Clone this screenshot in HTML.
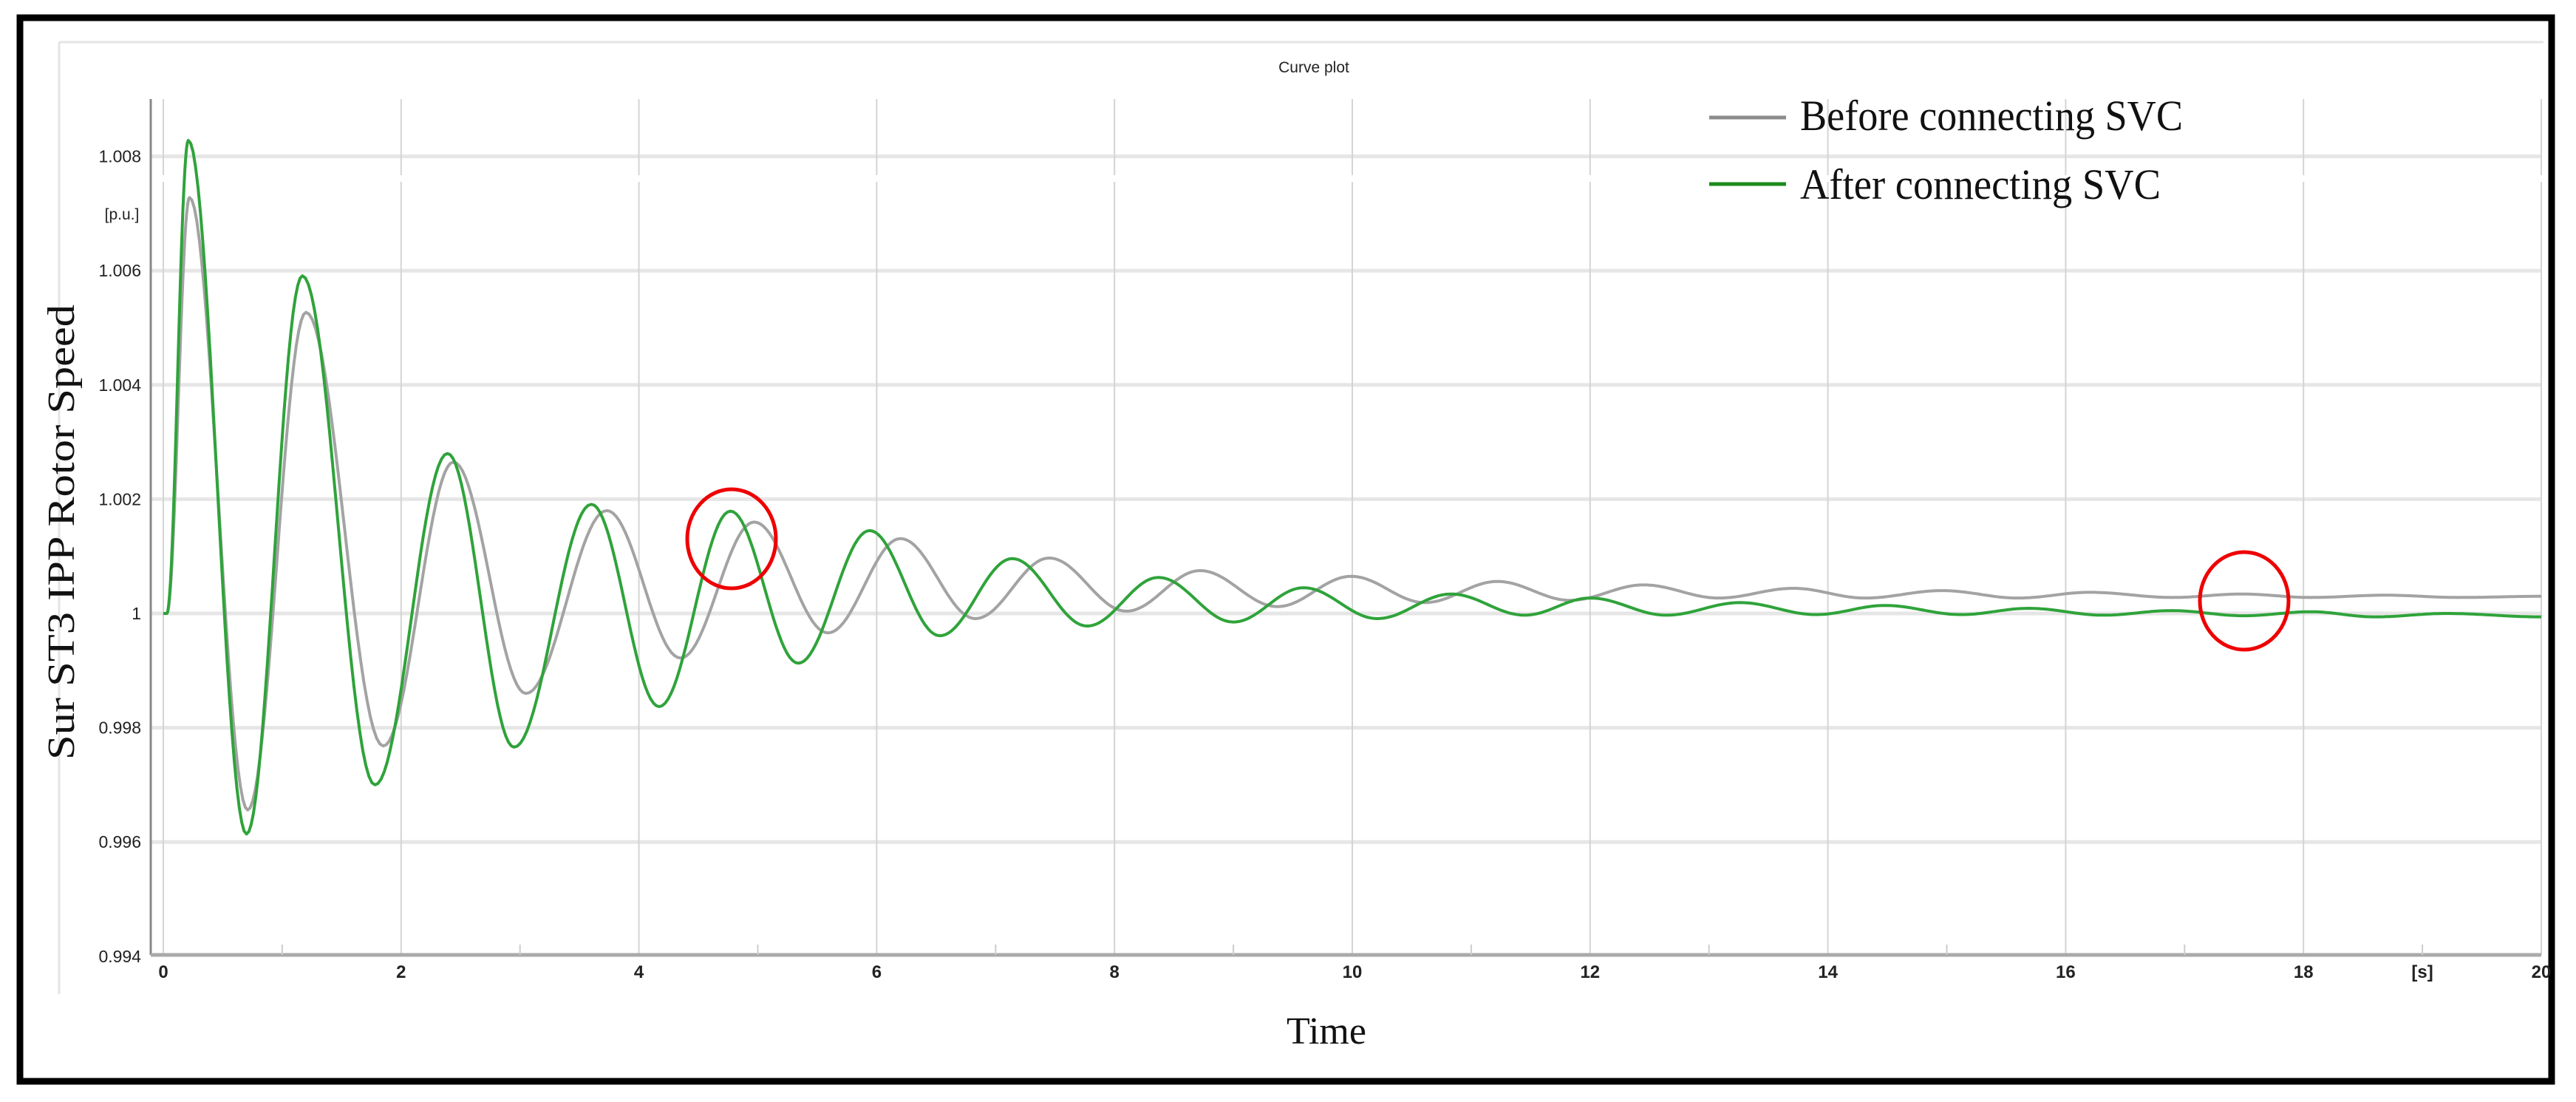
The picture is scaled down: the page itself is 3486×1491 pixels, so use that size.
<!DOCTYPE html>
<html><head><meta charset="utf-8"><style>
html,body{margin:0;padding:0;background:#fff;}
svg{display:block;}
</style></head><body>
<svg id="chart" width="3486" height="1491" viewBox="0 0 3486 1491" xmlns="http://www.w3.org/2000/svg">
<rect x="0" y="0" width="3486" height="1491" fill="#fff"/>
<rect x="27" y="24" width="3426" height="1439" fill="none" stroke="#000" stroke-width="9"/>
<line x1="80" y1="57" x2="3442" y2="57" stroke="#e4e4e4" stroke-width="3"/>
<line x1="80" y1="57" x2="80" y2="1345" stroke="#e4e4e4" stroke-width="3"/>
<text x="1778" y="98" font-family="Liberation Sans, sans-serif" font-size="21" text-anchor="middle" fill="#222">Curve plot</text>
<g id="grid"></g>
<g id="axes"></g>
<g id="series"></g>
<text transform="translate(100,720) rotate(-90)" font-family="Liberation Serif, serif" font-size="52" text-anchor="middle" fill="#111" textLength="616" lengthAdjust="spacingAndGlyphs">Sur ST3  IPP Rotor Speed</text>
<text x="1795" y="1412" font-family="Liberation Serif, serif" font-size="52" text-anchor="middle" fill="#111">Time</text>
<text x="165" y="297" font-family="Liberation Sans, sans-serif" font-size="21" text-anchor="middle" fill="#222">[p.u.]</text>
<g>
<line x1="2313" y1="159" x2="2417" y2="159" stroke="#8c8c8c" stroke-width="5"/>
<text x="2436" y="176" font-family="Liberation Serif, serif" font-size="58" fill="#111" textLength="518" lengthAdjust="spacingAndGlyphs">Before connecting SVC</text>
<line x1="2313" y1="249" x2="2417" y2="249" stroke="#1a8a1a" stroke-width="5"/>
<text x="2436" y="269" font-family="Liberation Serif, serif" font-size="58" fill="#111" textLength="488" lengthAdjust="spacingAndGlyphs">After connecting SVC</text>
</g>
<ellipse cx="990" cy="729" rx="60" ry="67" fill="none" stroke="#e00" stroke-width="5"/>
<ellipse cx="3037" cy="813" rx="60" ry="66" fill="none" stroke="#e00" stroke-width="5"/>
</svg>
<script>
const xTicks = [0,2,4,6,8,10,12,14,16,18,20];
const yTicks = [0.994,0.996,0.998,1,1.002,1.004,1.006,1.008];
const yTickLabels = ["0.994","0.996","0.998","1","1.002","1.004","1.006","1.008"];
const beforeT = [0,0.03,0.22,0.71,1.2,1.85,2.44,3.05,3.73,4.35,4.97,5.59,6.2,6.83,7.45,8.1,8.72,9.37,9.99,10.61,11.22,11.83,12.45,13.08,13.71,14.31,14.96,15.6,16.2,16.9,17.48,18.06,18.69,19.3,20];
const beforeV = [1,1,1.00728,0.99656,1.00527,0.99768,1.00265,0.9986,1.0018,0.99922,1.0016,0.99966,1.00131,0.99991,1.00097,1.00004,1.00075,1.00012,1.00065,1.00019,1.00056,1.00023,1.0005,1.00027,1.00044,1.00027,1.0004,1.00027,1.00037,1.00028,1.00034,1.00028,1.00032,1.00028,1.0003];
const afterT = [0,0.03,0.21,0.70,1.17,1.78,2.39,2.95,3.6,4.17,4.77,5.34,5.94,6.53,7.14,7.77,8.37,9.0,9.59,10.21,10.83,11.45,12.0,12.64,13.26,13.9,14.48,15.12,15.69,16.32,16.89,17.5,18.06,18.6,19.2,20];
const afterV = [1,1,1.00828,0.99614,1.00591,0.997,1.0028,0.99766,1.00191,0.99837,1.00179,0.99913,1.00145,0.99961,1.00096,0.99978,1.00063,0.99985,1.00045,0.99991,1.00034,0.99997,1.00027,0.99997,1.00019,0.99998,1.00014,0.99998,1.00009,0.99997,1.00005,0.99996,1.00003,0.99994,1.0,0.99994];

const NS="http://www.w3.org/2000/svg";
const X0=221, XS=160.9, Y1=830, YS=77300;
function xs(t){return X0+t*XS;}
function ys(v){return Y1-(v-1)*YS;}
const plotTop=134, plotBottom=1292, plotLeft=204, plotRight=xs(20);
function mk(tag,attrs,parent){const e=document.createElementNS(NS,tag);for(const k in attrs)e.setAttribute(k,attrs[k]);parent.appendChild(e);return e;}
const grid=document.getElementById('grid'), axes=document.getElementById('axes'), series=document.getElementById('series');

yTicks.forEach((v,i)=>{
  if(i===0) return;
  const l=mk('line',{x1:plotLeft,x2:plotRight,y1:ys(v),y2:ys(v),stroke:'#e6e6e6','stroke-width':5},grid);
  
  
});
xTicks.forEach(t=>{
  const l=mk('line',{x1:xs(t),x2:xs(t),y1:plotTop,y2:plotBottom,stroke:'#d4d4d4','stroke-width':2},grid);
  
  
});
const brk=mk('rect',{x:plotLeft-4,y:237,width:plotRight-plotLeft+8,height:9,fill:'#fff'},grid);



const ya=mk('line',{x1:plotLeft,x2:plotLeft,y1:plotTop,y2:plotBottom,stroke:'#888','stroke-width':3},axes);


const xa=mk('line',{x1:plotLeft,x2:plotRight,y1:plotBottom,y2:plotBottom,stroke:'#aaa','stroke-width':5},axes);


for(let t=1;t<20;t+=2){
  const m=mk('line',{x1:xs(t),x2:xs(t),y1:plotBottom-14,y2:plotBottom,stroke:'#ccc','stroke-width':2},axes);
  
  
}
yTicks.forEach((v,i)=>{
  const tx=mk('text',{x:191,y:ys(v)+8,'font-family':'Liberation Sans, sans-serif','font-size':23,'text-anchor':'end',fill:'#222'},axes);
  tx.textContent=yTickLabels[i];
  
  
});
xTicks.forEach(t=>{
  const tx=mk('text',{x:xs(t),y:1323,'font-family':'Liberation Sans, sans-serif','font-size':24,'font-weight':'bold','text-anchor':'middle',fill:'#222'},axes);
  tx.textContent=String(t);
  
  
});
const su=mk('text',{x:xs(19),y:1323,'font-family':'Liberation Sans, sans-serif','font-size':24,'font-weight':'bold','text-anchor':'middle',fill:'#222'},axes);
su.textContent='[s]';



function pathFor(T,V){
  let d='M'+xs(T[0]).toFixed(1)+','+ys(V[0]).toFixed(1);
  for(let i=0;i<T.length-1;i++){
    const n=24;
    for(let k=1;k<=n;k++){
      const f=k/n, w=(1-Math.cos(Math.PI*f))/2;
      const t=T[i]+(T[i+1]-T[i])*f, v=V[i]+(V[i+1]-V[i])*w;
      d+=' L'+xs(t).toFixed(1)+','+ys(v).toFixed(1);
    }
  }
  return d;
}
const pb=mk('path',{d:pathFor(beforeT,beforeV),fill:'none',stroke:'#a3a3a3','stroke-width':4,'stroke-linejoin':'round'},series);


const pa=mk('path',{d:pathFor(afterT,afterV),fill:'none',stroke:'#2fa33a','stroke-width':4,'stroke-linejoin':'round'},series);


</script>
</body></html>
